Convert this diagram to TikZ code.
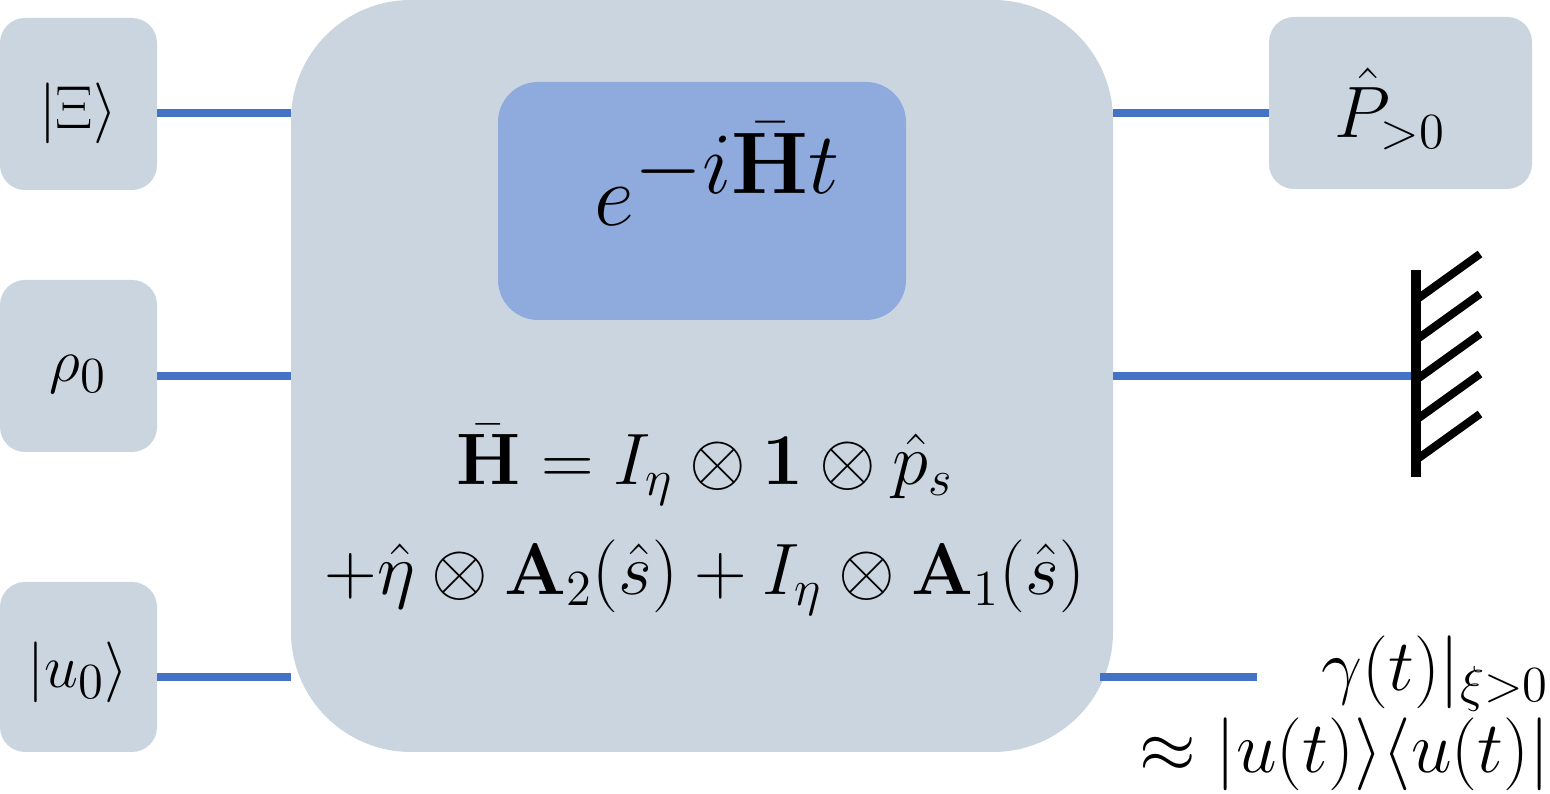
\documentclass[tikz,border=0pt]{standalone}
\usepackage{amssymb}
\usepackage{amsmath}
\usetikzlibrary{positioning}
\definecolor{boxgray}{HTML}{CBD5E0}
\definecolor{innerblue}{HTML}{8FABDD}
\definecolor{wireblue}{HTML}{4472C4}
\tikzset{
  port/.style={fill=boxgray, draw=none, rounded corners=0.25cm},
  wire/.style={wireblue, line width=0.08cm},
  big/.style={font=\fontsize{19}{25}\selectfont},
  bigger/.style={font=\fontsize{22.5}{30}\selectfont}
}
\begin{document}
\begin{tikzpicture}[big]
\useasboundingbox (0,0) rectangle (15.5,7.94);
% Main box and exponential
\fill[boxgray, rounded corners=1.2cm] (2.91,0.42) rectangle (11.13,7.94);
\fill[innerblue, rounded corners=0.4cm] (4.98,4.74) rectangle (9.06,7.12);
\node (expo) at (7.18,6.2) {\fontsize{49}{54}\selectfont $e^{-i\bar{\mathbf{H}}t}$};
\node[bigger, align=center] (ham) at (7.05,2.74) {$\bar{\mathbf{H}}=I_\eta\otimes\mathbf{1}\otimes\hat{p}_s$\\[0.05cm]
  $+\hat{\eta}\otimes\mathbf{A}_2(\hat{s})+I_\eta\otimes\mathbf{A}_1(\hat{s})$};
% Inputs
\fill[port] (0,6.04) rectangle (1.57,7.76);
\fill[port] (0,3.42) rectangle (1.57,5.14);
\fill[port] (0,0.42) rectangle (1.57,2.12);
\node (xi) at (0.78,6.81) {$|\Xi\rangle$};
\node (rho) at (0.78,4.2) {$\rho_0$};
\node (u0) at (0.78,1.22) {$|u_0\rangle$};
\coordinate (inA) at (2.91,6.81);
\coordinate (inB) at (2.91,4.18);
\coordinate (inC) at (2.91,1.17);
\draw[wire] (1.57,6.81) -- (inA);
\draw[wire] (1.57,4.18) -- (inB);
\draw[wire] (1.57,1.17) -- (inC);
% Outputs
\fill[port] (12.69,6.05) rectangle (15.32,7.77);
\node[bigger] (proj) at (13.9,6.85) {$\hat{P}_{>0}$};
\coordinate (outA) at (11.13,6.81);
\coordinate (outB) at (11.13,4.18);
\coordinate (outC) at (11.0,1.17);
\coordinate (gnd) at (14.16,4.18);
\coordinate (endC) at (12.57,1.17);
\draw[wire] (outA) -- (12.69,6.81);
\draw[wire] (outB) -- (gnd);
\draw[wire] (outC) -- (endC);
% Ground
\draw[line width=0.1cm] (14.16,3.17) -- (14.16,5.24);
\foreach \y in {3.34,3.74,4.14,4.54,4.94}
  \draw[line width=0.08cm] (14.16,\y) -- ++(0.64,0.46);
\node[font=\fontsize{21.5}{28}\selectfont, anchor=east, inner sep=0pt] (gam) at (15.5,1.2) {$\gamma(t)|_{\xi>0}$};
\node[font=\fontsize{21.5}{28}\selectfont, anchor=east, inner sep=0pt] (appr) at (15.5,0.4) {$\approx|u(t)\rangle\langle u(t)|$};
\end{tikzpicture}
\end{document}
